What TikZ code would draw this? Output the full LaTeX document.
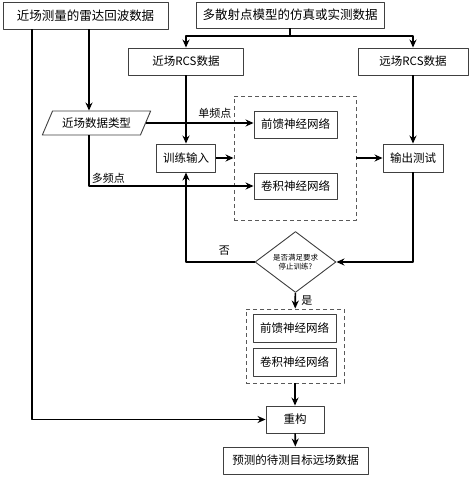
\documentclass[tikz,border=0pt]{standalone}
\usepackage{fontspec}
\newfontfamily\cjk{Noto Sans CJK SC}
\usetikzlibrary{shapes.geometric,arrows.meta}
\tikzset{
	box/.style = {draw = black!75, line width = .9pt, fill = white, inner sep = 0pt,
		font = \cjk\fontsize{11.5}{13}\selectfont},
	bigbox/.style = {box, font = \cjk\fontsize{12.5}{14}\selectfont},
	netbox/.style = {draw = black!65, line width = .9pt, dash pattern = on 4pt off 3pt, inner sep = 0pt},
	link/.style = {line width = 1.6pt, ->},
	lab/.style = {font = \cjk\fontsize{11}{13}\selectfont}
}
\begin{document}
\begin{tikzpicture}[x = 1pt, y = -1pt, line join = round, >={Stealth[length=8pt,width=7pt]}]
	\useasboundingbox (0,0) rectangle (474,477);
	\path 
	(89,0) coordinate (tx)  % nhánh dữ liệu loại
	(32,0) coordinate (lx)  % đường bên trái
	(290,36) coordinate (sp)
	;
	% hàng trên
	\node[bigbox, minimum width = 165pt, minimum height = 27pt] (echo) at (85.5,15.5) {近场测量的雷达回波数据};
	\node[bigbox, minimum width = 188pt, minimum height = 26pt] (model) at (290,15) {多散射点模型的仿真或实测数据};
	\node[box, minimum width = 115pt, minimum height = 27pt] (nrcs) at (186,61.5) {近场RCS数据};
	\node[box, minimum width = 110pt, minimum height = 27pt] (frcs) at (413,61.5) {远场RCS数据};
	\node[box, shape = trapezium, trapezium left angle = 53, trapezium right angle = 127,
		trapezium stretches = true, minimum width = 109pt, minimum height = 24pt] (ntype) at (96.5,123) {近场数据类型};
	% huấn luyện
	\node[box, minimum width = 59pt, minimum height = 28pt] (trn) at (186,158) {训练输入};
	\node[netbox, minimum width = 122pt, minimum height = 124pt] (net) at (295,158) {};
	\node[box, minimum width = 83pt, minimum height = 27pt] (ffn1) at (295.5,124.5) {前馈神经网络};
	\node[box, minimum width = 83pt, minimum height = 26pt] (cnn1) at (295.5,186) {卷积神经网络};
	\node[box, minimum width = 60pt, minimum height = 28pt] (out) at (413,158) {输出测试};
	\node[box, shape = diamond, minimum width = 81pt, minimum height = 39pt, align = center,
		font = \cjk\fontsize{7.5}{9}\selectfont] (chk) at (295.5,262) {是否满足要求\\停止训练?};
	% dự đoán
	\node[netbox, minimum width = 98pt, minimum height = 74pt] (net2) at (295,346) {};
	\node[box, minimum width = 83pt, minimum height = 28pt] (ffn2) at (294.5,328) {前馈神经网络};
	\node[box, minimum width = 83pt, minimum height = 28pt] (cnn2) at (294.5,362) {卷积神经网络};
	\node[box, minimum width = 58pt, minimum height = 27pt] (rec) at (295,419.5) {重构};
	\node[box, minimum width = 145pt, minimum height = 27pt] (res) at (295.5,460.5) {预测的待测目标远场数据};
	
	\draw[line width = 1.6pt] (model) -- (sp);
	\draw[link] (sp) -| (nrcs.north);
	\draw[link] (sp) -| (frcs.north);
	\draw[link] (echo.south -| tx) -- (ntype.north -| tx);
	\draw[link] (echo.south -| lx) |- (rec.west);
	\draw[link] (ntype.east) -- node[lab, above, pos = .64] {单频点} (ntype.east -| ffn1.west);
	\draw[link] (ntype.south -| tx) |- node[lab, above right, pos = .5, inner sep = 2pt] {多频点} (cnn1.west);
	\draw[link] (nrcs) -- (trn);
	\draw[link] (trn) -- (net);
	\draw[link] (net) -- (out);
	\draw[link] (frcs) -- (out);
	\draw[link] (out) |- (chk.east);
	\draw[link] (chk.west) -| node[lab, above, pos = .22, yshift = 2pt] {否} (trn.south);
	\draw[link] (chk) -- node[lab, right, xshift = 2pt] {是} (net2);
	\draw[link] (net2) -- (rec);
	\draw[link] (rec) -- (res);
\end{tikzpicture}
\end{document}
